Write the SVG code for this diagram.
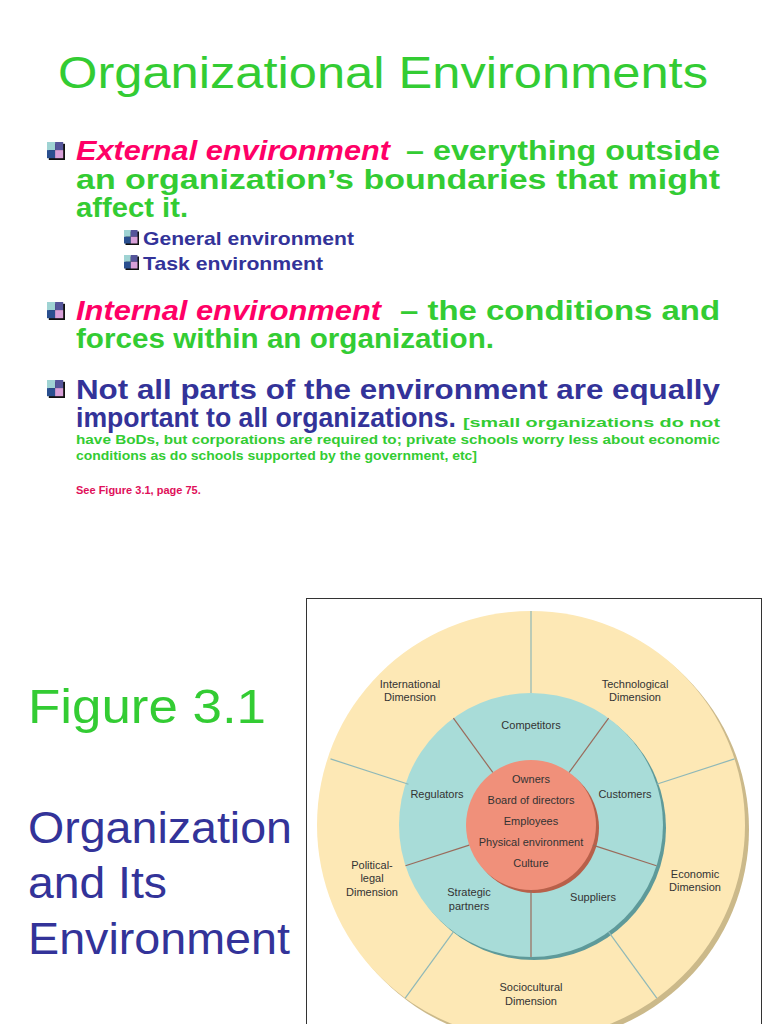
<svg xmlns="http://www.w3.org/2000/svg" width="768" height="1024" viewBox="0 0 768 1024">
<defs>
<style>
text{font-family:"Liberation Sans",Arial,sans-serif}
.g{fill:#33cc33}.n{fill:#333399}.p{fill:#ff0066}
.big{font-size:28px;font-weight:bold}
.sub{font-size:19px;font-weight:bold;fill:#333399}
.sm{font-size:12.5px;font-weight:bold;fill:#33cc33}
.f{font-size:11px;fill:#333;text-anchor:middle}
.od{stroke:#8fb8b8;stroke-width:1.2}
.id{stroke:#9a6b5b;stroke-width:1.2}
</style>
<g id="bul">
<rect x="2" y="2" width="18" height="18" fill="#111"/>
<rect x="0" y="0" width="9" height="9" fill="#9fd3d3"/>
<rect x="9" y="0" width="9" height="9" fill="#55559a"/>
<rect x="0" y="9" width="9" height="9" fill="#2a4f8f"/>
<rect x="9" y="9" width="9" height="9" fill="#d8a0d8"/>
</g>
</defs>
<rect width="768" height="1024" fill="#fff"/>
<text x="58" y="88" font-size="45" class="g" textLength="650" lengthAdjust="spacingAndGlyphs">Organizational Environments</text>

<g id="b1">
<use href="#bul" transform="translate(47,142) scale(0.9)"/>
<text x="76" y="160" class="big p" font-style="italic" textLength="314" lengthAdjust="spacingAndGlyphs">External environment</text>
<text x="406" y="160" class="big g" textLength="314" lengthAdjust="spacingAndGlyphs">– everything outside</text>
<text x="76" y="189" class="big g" textLength="644" lengthAdjust="spacingAndGlyphs">an organization’s boundaries that might</text>
<text x="76" y="217" class="big g" textLength="112" lengthAdjust="spacingAndGlyphs">affect it.</text>
</g>
<g id="b1a">
<use href="#bul" transform="translate(124,230) scale(0.75)"/>
<text x="143" y="245" class="sub" textLength="211" lengthAdjust="spacingAndGlyphs">General environment</text>
<use href="#bul" transform="translate(124,255) scale(0.75)"/>
<text x="143" y="270" class="sub" textLength="180" lengthAdjust="spacingAndGlyphs">Task environment</text>
</g>
<g id="b2">
<use href="#bul" transform="translate(47,302) scale(0.9)"/>
<text x="76" y="320" class="big p" font-style="italic" textLength="305" lengthAdjust="spacingAndGlyphs">Internal environment</text>
<text x="400" y="320" class="big g" textLength="320" lengthAdjust="spacingAndGlyphs">– the conditions and</text>
<text x="76" y="348" class="big g" textLength="418" lengthAdjust="spacingAndGlyphs">forces within an organization.</text>
</g>
<g id="b3">
<use href="#bul" transform="translate(47,380) scale(0.9)"/>
<text x="76" y="399" class="big n" textLength="644" lengthAdjust="spacingAndGlyphs">Not all parts of the environment are equally</text>
<text x="76" y="427" class="big n" textLength="380" lengthAdjust="spacingAndGlyphs">important to all organizations.</text>
<text x="463" y="427" class="sm" textLength="257" lengthAdjust="spacingAndGlyphs">[small organizations do not</text>
<text x="76" y="444" class="sm" textLength="644" lengthAdjust="spacingAndGlyphs">have BoDs, but corporations are required to; private schools worry less about economic</text>
<text x="76" y="460" class="sm" textLength="401" lengthAdjust="spacingAndGlyphs">conditions as do schools supported by the government, etc]</text>
<text x="76" y="494" font-size="11" font-weight="bold" fill="#e0105a">See Figure 3.1, page 75.</text>
</g>

<g id="left">
<text x="28" y="723" font-size="48" class="g" textLength="238" lengthAdjust="spacingAndGlyphs">Figure 3.1</text>
<text x="28" y="843" font-size="44" class="n" textLength="264" lengthAdjust="spacingAndGlyphs">Organization</text>
<text x="28" y="898" font-size="44" class="n" textLength="139" lengthAdjust="spacingAndGlyphs">and Its</text>
<text x="28" y="954" font-size="44" class="n" textLength="262" lengthAdjust="spacingAndGlyphs">Environment</text>
</g>

<g id="figure">
<rect x="306.5" y="598.5" width="455" height="440" fill="#fff" stroke="#333" stroke-width="1"/>
<circle cx="535" cy="829" r="214" fill="#cbb98a"/>
<circle cx="531" cy="825" r="214" fill="#fde8b5"/>
<circle cx="534" cy="828" r="132" fill="#5e9a9a"/>
<circle cx="531" cy="825" r="132" fill="#a8dcd8"/>
<circle cx="534" cy="828" r="65" fill="#b8604a"/>
<circle cx="531" cy="825" r="65" fill="#f0907a"/>
<g id="connectors">
<line class="od" x1="531" y1="693" x2="531" y2="611"/>
<line class="od" x1="656.5" y1="784.2" x2="734.5" y2="758.9"/>
<line class="od" x1="408.5" y1="784.2" x2="330.5" y2="758.9"/>
<line class="od" x1="608.6" y1="931.8" x2="656.8" y2="998.1"/>
<line class="od" x1="453.4" y1="931.8" x2="405.2" y2="998.1"/>
<line class="id" x1="531" y1="890" x2="531" y2="957"/>
<line class="id" x1="469.2" y1="845.1" x2="405.5" y2="865.8"/>
<line class="id" x1="592.8" y1="845.1" x2="656.5" y2="865.8"/>
<line class="id" x1="492.8" y1="772.4" x2="453.4" y2="718.2"/>
<line class="id" x1="569.2" y1="772.4" x2="608.6" y2="718.2"/>
</g>
<text class="f" x="410" y="688">International</text><text class="f" x="410" y="701">Dimension</text>
<text class="f" x="635" y="688">Technological</text><text class="f" x="635" y="701">Dimension</text>
<text class="f" x="531" y="729">Competitors</text>
<text class="f" x="437" y="798">Regulators</text>
<text class="f" x="625" y="798">Customers</text>
<text class="f" x="531" y="783">Owners</text>
<text class="f" x="531" y="804">Board of directors</text>
<text class="f" x="531" y="825">Employees</text>
<text class="f" x="531" y="846">Physical environment</text>
<text class="f" x="531" y="867">Culture</text>
<text class="f" x="372" y="869">Political-</text><text class="f" x="372" y="882">legal</text><text class="f" x="372" y="896">Dimension</text>
<text class="f" x="469" y="896">Strategic</text><text class="f" x="469" y="910">partners</text>
<text class="f" x="593" y="901">Suppliers</text>
<text class="f" x="695" y="878">Economic</text><text class="f" x="695" y="891">Dimension</text>
<text class="f" x="531" y="991">Sociocultural</text><text class="f" x="531" y="1005">Dimension</text>
</g>
</svg>
